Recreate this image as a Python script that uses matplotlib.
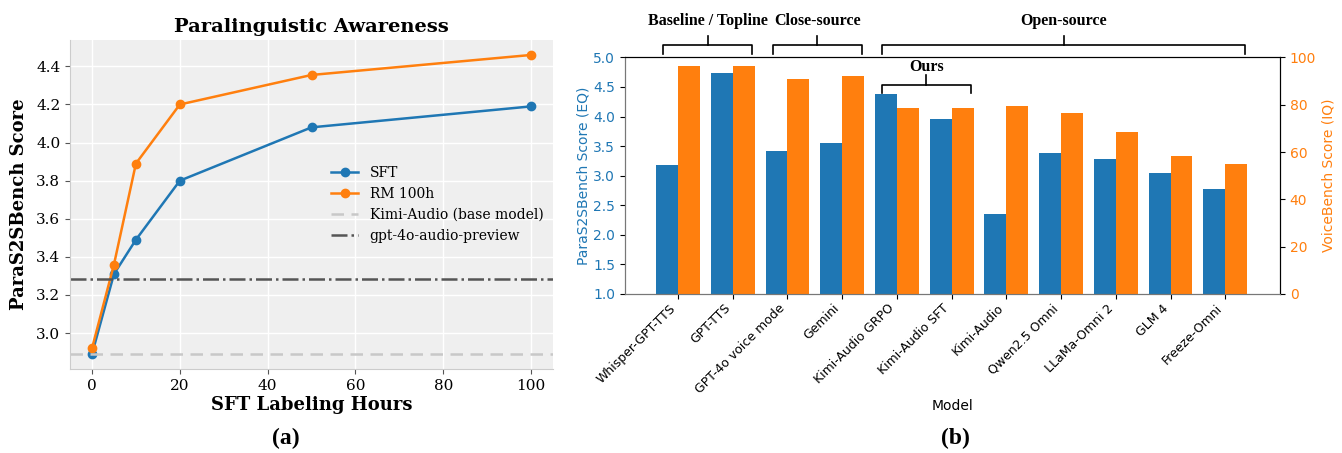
import numpy as np
import matplotlib.pyplot as plt

# ---- data (a) ----
hours = [0, 5, 10, 20, 50, 100]
sft = [2.89, 3.31, 3.49, 3.80, 4.08, 4.19]
rm_100h = [2.92, 3.36, 3.89, 4.20, 4.355, 4.46]
kimi_base = 2.89
gpt4o_audio = 3.283

# ---- data (b) ----
models = ['Whisper-GPT-TTS', 'GPT-TTS', 'GPT-4o voice mode', 'Gemini',
          'Kimi-Audio GRPO', 'Kimi-Audio SFT', 'Kimi-Audio', 'Qwen2.5 Omni',
          'LLaMa-Omni 2', 'GLM 4', 'Freeze-Omni']
eq_scores = [3.18, 4.735, 3.41, 3.56, 4.38, 3.96, 2.35, 3.38, 3.29, 3.04, 2.77]
iq_scores = [96.3, 96.3, 90.8, 92.1, 78.6, 78.6, 79.3, 76.3, 68.4, 58.3, 55.1]

# bracket groups: (label, first index, last index)
groups = [('Baseline / Topline', 0, 1), ('Close-source', 2, 3), ('Open-source', 4, 10)]
ours = ('Ours', 4, 5)

fig = plt.figure(figsize=(13.42, 4.53), dpi=100)

# ---------------- panel (a) ----------------
ax = fig.add_axes([0.0522, 0.1854, 0.3599, 0.7263])
ax.set_facecolor('#efefef')
ax.grid(True, color='white', linewidth=1.0)
ax.set_axisbelow(True)
for s in ['top', 'right']:
    ax.spines[s].set_visible(False)
for s in ['left', 'bottom']:
    ax.spines[s].set_color('#cccccc')

serif = 'DejaVu Serif'
ax.plot(hours, sft, marker='o', markersize=6, color='#1f77b4', linewidth=1.8, label='SFT')
ax.plot(hours, rm_100h, marker='o', markersize=6, color='#ff7f0e', linewidth=1.8, label='RM 100h')
ax.axhline(kimi_base, color='#c8c8c8', linestyle=(0, (5, 3)), linewidth=1.8,
           label='Kimi-Audio (base model)')
ax.axhline(gpt4o_audio, color='#555555', linestyle='-.', linewidth=1.8,
           label='gpt-4o-audio-preview')
ax.set_xlim(-5, 105)
ax.set_yticks([3.0, 3.2, 3.4, 3.6, 3.8, 4.0, 4.2, 4.4])
ax.tick_params(labelsize=11, color='#555555')
for lab in ax.get_xticklabels() + ax.get_yticklabels():
    lab.set_family(serif)
ax.set_title('Paralinguistic Awareness', fontsize=14, fontweight='bold', family=serif)
ax.set_xlabel('SFT Labeling Hours', fontsize=13, fontweight='bold', family=serif, labelpad=2)
ax.set_ylabel('ParaS2SBench Score', fontsize=13, fontweight='bold', family=serif, labelpad=6)
ax.legend(loc='center right', frameon=False, prop={'family': serif, 'size': 10},
          handlelength=2.0, borderaxespad=0.3)

# ---------------- panel (b) ----------------
bx = fig.add_axes([0.4657, 0.351, 0.4881, 0.5224])
bx2 = bx.twinx()
x = np.arange(len(models))
w = 0.4
bx.bar(x - w / 2, eq_scores, width=w, color='#1f77b4', zorder=2)
bx2.bar(x + w / 2, iq_scores, width=w, color='#ff7f0e', zorder=2)
bx.set_ylim(1.0, 5.0)
bx2.set_ylim(0, 100)
bx.set_xlim(-0.97, 11.0)
bx.set_xticks(x)
bx.set_xticklabels(models, rotation=45, ha='right', fontsize=9)
bx.tick_params(axis='x', pad=2)
bx.tick_params(axis='y', labelcolor='#1f77b4', labelsize=10)
bx2.tick_params(axis='y', labelcolor='#ff7f0e', labelsize=10)
bx.set_ylabel('ParaS2SBench Score (EQ)', color='#1f77b4', fontsize=10, labelpad=2)
bx2.set_ylabel('VoiceBench Score (IQ)', color='#ff7f0e', fontsize=10)
bx.set_xlabel('Model', fontsize=10, labelpad=2)
for a in (bx, bx2):
    a.spines['left'].set_color('#777777')
    a.spines['bottom'].set_color('#777777')

bfont = {'family': 'Liberation Serif', 'weight': 'bold', 'size': 11.5}
trans = bx.get_xaxis_transform()


def bracket(a, b, y_end, y_line, y_tick, y_text, label, transform, clip):
    left = a - 0.27
    right = b + 0.36
    mid = (left + right) / 2
    bx.plot([left, left, right, right], [y_end, y_line, y_line, y_end],
            color='black', linewidth=1.2, transform=transform, clip_on=clip)
    bx.plot([mid, mid], [y_line, y_tick], color='black', linewidth=1.2,
            transform=transform, clip_on=clip)
    bx.text(mid, y_text, label, ha='center', va='center', transform=transform,
            fontdict=bfont)


for label, a, b in groups:
    bracket(a, b, 1.013, 1.052, 1.09, 1.155, label, trans, False)
bracket(ours[1], ours[2] - 0.01, 4.39, 4.53, 4.70, 4.83, ours[0], bx.transData, False)

# panel labels
fig.text(0.213, 0.02, '(a)', ha='center', fontsize=17, fontweight='bold', family='Liberation Serif')
fig.text(0.712, 0.02, '(b)', ha='center', fontsize=17, fontweight='bold', family='Liberation Serif')

fig.savefig('out.png', dpi=100)
